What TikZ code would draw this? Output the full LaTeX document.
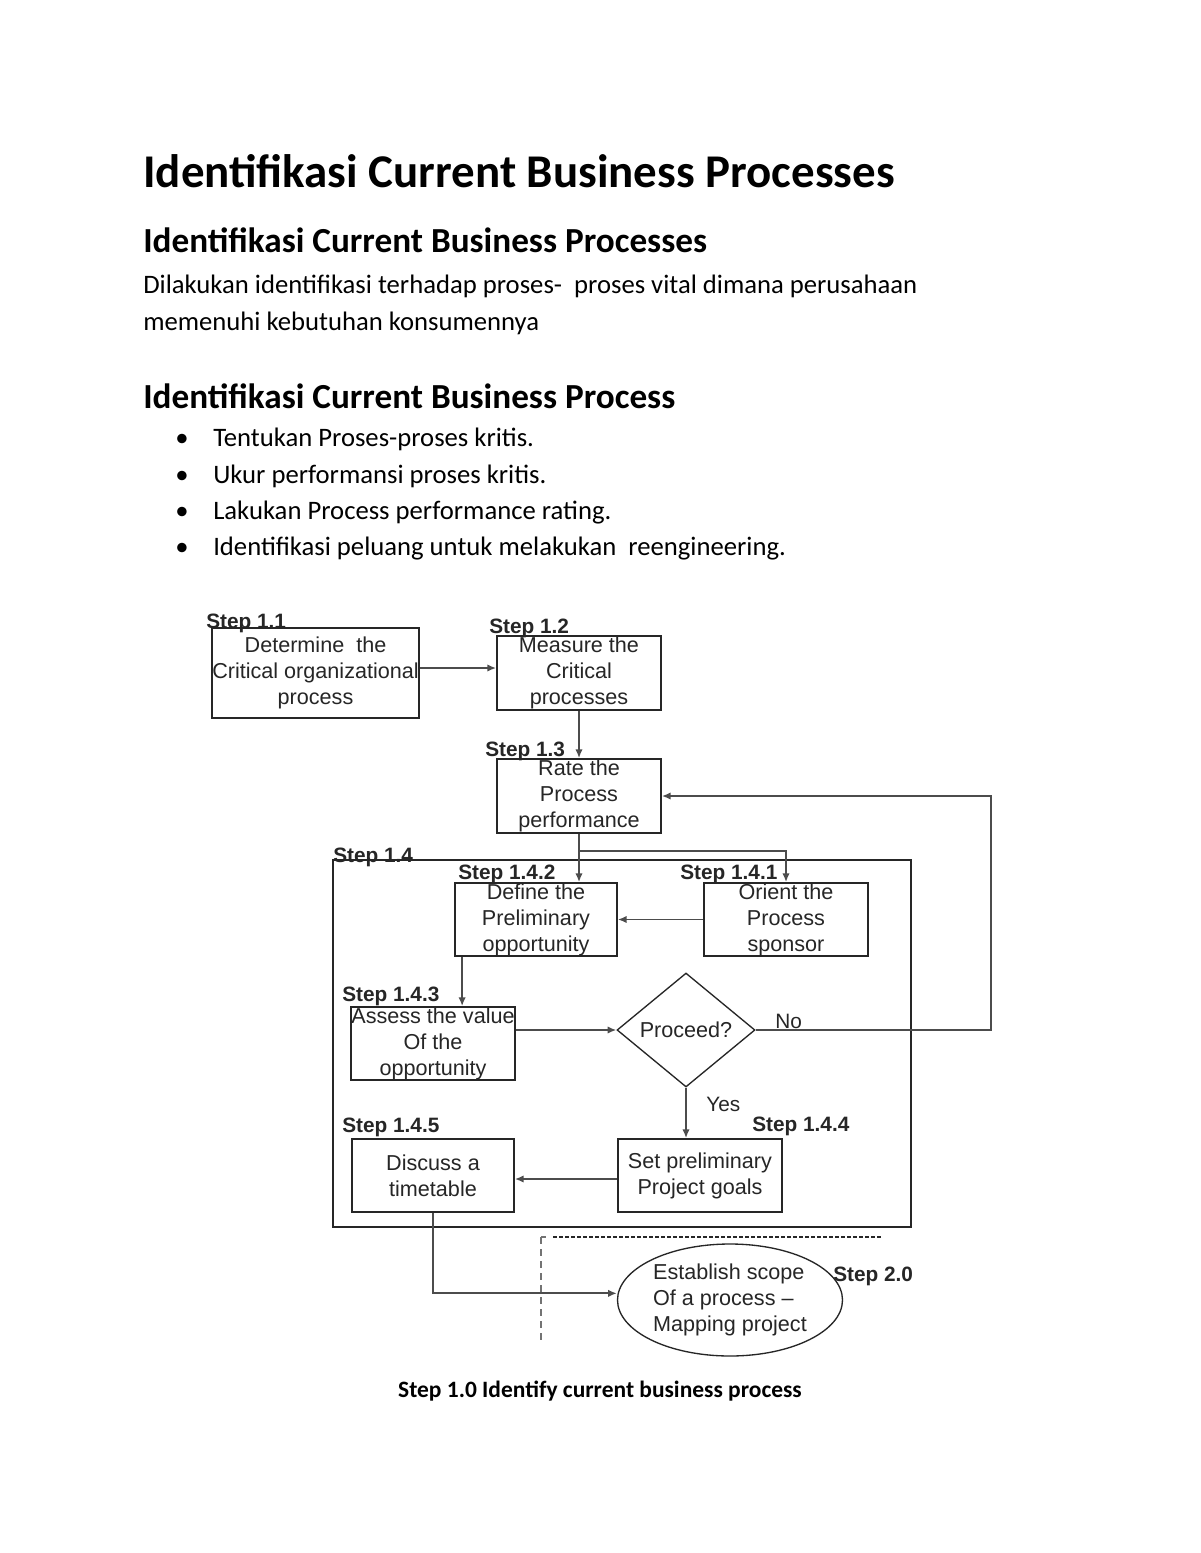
\documentclass[tikz,border=0pt]{standalone}
\usepackage{fontspec}
\setmainfont{Carlito}
\newfontfamily\arialf{Liberation Sans}
\usetikzlibrary{arrows.meta,shapes.geometric,fit,calc}
\begin{document}
\begin{tikzpicture}[x=0.75pt,y=-0.75pt,
  pagetxt/.style={anchor=base west,inner sep=0,font=\fontsize{20pt}{24pt}\selectfont},
  head/.style={anchor=base west,inner sep=0,font=\fontsize{26.4pt}{30pt}\selectfont\bfseries},
  box/.style={draw=black!85,line width=1.3pt,inner sep=0,align=center,
    font=\arialf\fontsize{16.2pt}{19.5pt}\selectfont,text=black!85},
  bw/.style={minimum width=121.5pt},
  bww/.style={minimum width=123pt},
  bh/.style={minimum height=54.75pt},
  steplbl/.style={anchor=base west,inner sep=0,font=\arialf\fontsize{15.6pt}{18pt}\selectfont\bfseries,text=black!85},
  lbl/.style={anchor=base west,inner sep=0,font=\arialf\fontsize{15.6pt}{18pt}\selectfont,text=black!85},
  arr/.style={draw=black!70,line width=1.3pt,-{Latex[length=6.5pt,width=5.5pt]}},
  ln/.style={draw=black!70,line width=1.3pt}]
\useasboundingbox[fill=white] (0,0) rectangle (1200,1553);
% page text
\node[anchor=base west,inner sep=0,font=\fontsize{35.2pt}{40pt}\selectfont\bfseries] (title) at (143,187) {Identifikasi Current Business Processes};
\node[head] (h2) at (143,252) {Identifikasi Current Business Processes};
\node[pagetxt] (p1) at (143,293) {Dilakukan identifikasi terhadap proses-\ \ proses vital dimana perusahaan};
\node[pagetxt] (p2) at (143,330) {memenuhi kebutuhan konsumennya};
\node[head] (h3) at (143,408) {Identifikasi Current Business Process};
\foreach \y/\t [count=\i] in {446/Tentukan Proses-proses kritis.,483/Ukur performansi proses kritis.,519/Lakukan Process performance rating.,555/Identifikasi peluang untuk melakukan\ \ reengineering.}{
  \node[pagetxt] (b\i) at (175,\y) {•};
  \node[pagetxt] (t\i) at (213,\y) {\t};
}
% frame step 1.4
\node[draw=black!85,line width=1pt,inner sep=0,fit={(333,860) (911,1227)}] (frame) {};
% boxes
\node[box,minimum width=155.25pt,minimum height=67.5pt] (s11) at (315.5,673) {Determine\ \ the\\Critical organizational\\process};
\node[box,bww,minimum height=55.5pt] (s12) at (579,673) {Measure the\\Critical\\processes};
\node[box,bww,minimum height=55.5pt] (s13) at (579,796) {Rate the\\Process\\performance};
\node[box,bw,bh] (s142) at (536,919.5) {Define the\\Preliminary\\opportunity};
\node[box,bww,bh] (s141) at (786,919.5) {Orient the\\Process\\sponsor};
\node[box,bw,bh] (s143) at (433,1043.5) {Assess the value\\Of the\\opportunity};
\node[box,shape=diamond,minimum width=103.5pt,minimum height=85.5pt,line width=1pt] (dia) at (686,1030) {Proceed?};
\node[box,bww,bh] (s144) at (700,1175.5) {Set preliminary\\Project goals};
\node[box,bw,bh] (s145) at (433,1175.5) {Discuss a\\timetable};
\node[box,shape=ellipse,minimum width=168.75pt,minimum height=84pt,line width=1pt,align=left] (est) at (730,1300) {Establish scope\\Of a process –\\Mapping project};
% labels
\node[steplbl] (l11) at (206,628) {Step 1.1};
\node[steplbl] (l12) at (489,633) {Step 1.2};
\node[steplbl] (l13) at (485,756) {Step 1.3};
\node[steplbl] (l14) at (333,862) {Step 1.4};
\node[steplbl] (l142) at (458,879) {Step 1.4.2};
\node[steplbl] (l141) at (680,879) {Step 1.4.1};
\node[steplbl] (l143) at (342,1001) {Step 1.4.3};
\node[steplbl] (l145) at (342,1132) {Step 1.4.5};
\node[steplbl] (l144) at (752,1131) {Step 1.4.4};
\node[steplbl] (l20) at (833,1281) {Step 2.0};
\node[lbl] (no) at (775,1028) {No};
\node[lbl] (yes) at (706,1111) {Yes};
% connectors
\draw[arr] (s11.east |- 0,668) -- (s12.west |- 0,668);
\draw[arr] (s12.south) -- (s13.north);
\draw[arr] (s13.south) -- (s13.south |- s142.north);
\coordinate (br) at (579,851);
\draw[arr] (br) -| (s141.north);
\draw[arr] (s141.west) -- (s142.east);
\coordinate (a) at ([xshift=6pt]s142.south west);
\draw[arr] (a) -- (a |- s143.north);
\draw[arr] (s143.east |- dia.west) -- (dia.west);
\draw[arr] (dia.east) -- ++(235,0) |- (s13.east);
\draw[arr] (dia.south) -- (dia.south |- s144.north);
\draw[arr] (s144.west |- 0,1179) -- (s145.east |- 0,1179);
\draw[arr] (s145.south) |- ([yshift=5pt]est.west);
% dashed boundary
\coordinate (dv1) at (541,1237);
\coordinate (dv2) at (541,1343);
\coordinate (dh1) at (553,1237);
\coordinate (dh2) at (882,1237);
\draw[black!55,line width=1pt,dash pattern=on 5pt off 4pt] (dv1) -- (dv2);
\draw[black!55,line width=1pt] (dv1) -- ++(5,0);
\draw[black!85,line width=1.3pt,dash pattern=on 3pt off 1.5pt] (dh1) -- (dh2);
% caption
\node[anchor=base,inner sep=0,font=\fontsize{17.6pt}{20pt}\selectfont\bfseries] (cap) at (600,1397) {Step 1.0 Identify current business process};
\end{tikzpicture}
\end{document}
